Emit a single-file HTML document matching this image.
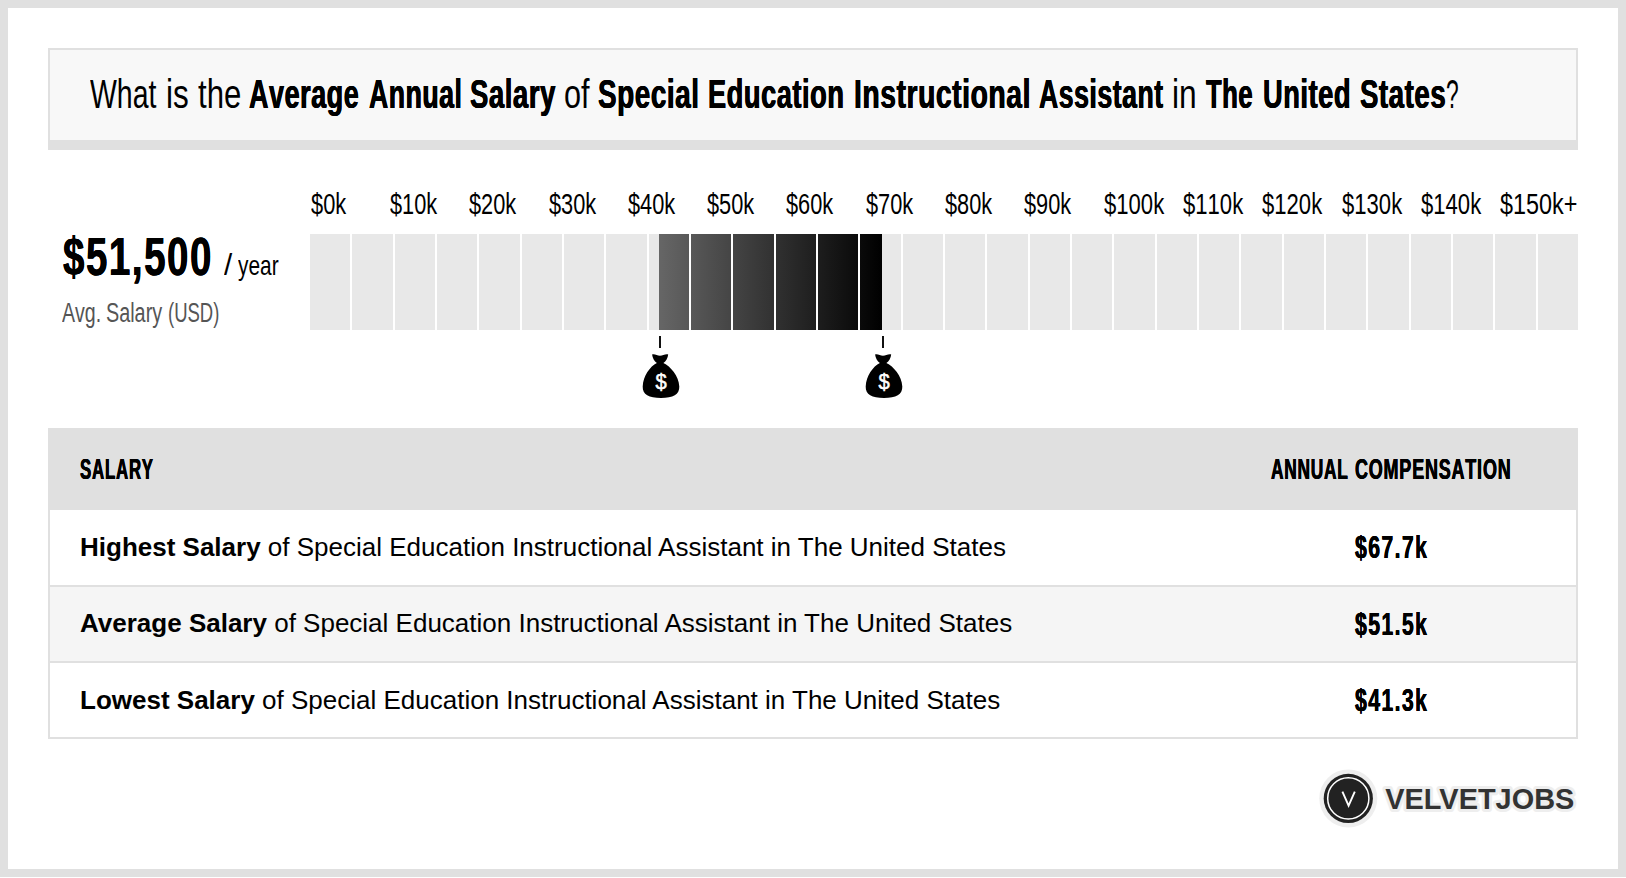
<!DOCTYPE html>
<html lang="en"><head><meta charset="utf-8">
<title>Average Annual Salary of Special Education Instructional Assistant in The United States</title>
<style>
html,body{margin:0;padding:0;background:#fff;}
body{width:1626px;height:878px;position:relative;overflow:hidden;font-family:"Liberation Sans",Arial,Helvetica,sans-serif;color:#000;}
#frame{position:absolute;left:0;top:0;width:1610px;height:861px;border:8px solid #e0e0e0;background:#fff;}
.t{position:absolute;white-space:nowrap;line-height:1;transform-origin:0 0;font-kerning:none;font-weight:400;color:#000;}
.b{font-weight:700;text-shadow:0.65px 0 0 currentColor,-0.65px 0 0 currentColor;}
#title{position:absolute;left:48px;top:48px;width:1526px;height:90px;margin:0;border:2px solid #e0e0e0;border-bottom-width:10px;background:#f8f8f8;font-weight:400;}
#bar{position:absolute;left:310px;top:234px;width:1268px;height:96px;overflow:hidden;}
#bar i{position:absolute;top:0;height:96px;background:#e8e8e8;}
#bar s{position:absolute;top:0;width:2px;height:96px;background:#fff;}
#range{position:absolute;left:349.1px;top:0;width:223.2px;height:96px;background:linear-gradient(90deg,#666 0%,#000 100%);}
.tick{position:absolute;top:336px;width:2px;height:12px;background:#111;}
.bag{position:absolute;top:353px;width:38px;height:46px;}
table{position:absolute;left:48px;top:428px;width:1530px;border-collapse:separate;border-spacing:0;}
th{height:82px;background:#e0e0e0;padding:0;position:relative;}
td{height:75px;padding:0;border-bottom:2px solid #e0e0e0;font-size:26px;}
td:first-child{border-left:2px solid #e0e0e0;padding-left:30px;text-align:left;}
td:last-child{border-right:2px solid #e0e0e0;width:373px;position:relative;}
tr.alt td{background:#f5f5f5;}
tr.r2 td,tr.r3 td{height:74px;}
tr.r2 td:first-child span{position:relative;top:-1px;}
td b{font-weight:700;}
#logo{position:absolute;left:1310px;top:760px;width:280px;height:80px;}
</style></head>
<body>
<div id="frame"></div>
<h1 id="title"><span class="t" style="left:40.18px;top:24.03px;font-size:40.00px;transform:scaleX(0.7105);">What</span> <span class="t" style="left:115.89px;top:24.03px;font-size:40.00px;transform:scaleX(0.7874);">is</span> <span class="t" style="left:147.53px;top:24.03px;font-size:40.00px;transform:scaleX(0.7779);">the</span> <span class="t b" style="left:198.87px;top:24.03px;font-size:40.00px;transform:scaleX(0.6745);letter-spacing:0.80px;text-shadow:0.50px 0 0 currentColor,-0.50px 0 0 currentColor;">Average</span> <span class="t b" style="left:318.67px;top:24.03px;font-size:40.00px;transform:scaleX(0.6656);letter-spacing:0.80px;text-shadow:0.50px 0 0 currentColor,-0.50px 0 0 currentColor;">Annual</span> <span class="t b" style="left:419.55px;top:24.03px;font-size:40.00px;transform:scaleX(0.6877);letter-spacing:0.80px;text-shadow:0.50px 0 0 currentColor,-0.50px 0 0 currentColor;">Salary</span> <span class="t" style="left:513.71px;top:24.03px;font-size:40.00px;transform:scaleX(0.7656);">of</span> <span class="t b" style="left:548.25px;top:24.03px;font-size:40.00px;transform:scaleX(0.6970);letter-spacing:0.80px;text-shadow:0.50px 0 0 currentColor,-0.50px 0 0 currentColor;">Special</span> <span class="t b" style="left:658.42px;top:24.03px;font-size:40.00px;transform:scaleX(0.6805);letter-spacing:0.80px;text-shadow:0.50px 0 0 currentColor,-0.50px 0 0 currentColor;">Education</span> <span class="t b" style="left:804.06px;top:24.03px;font-size:40.00px;transform:scaleX(0.7066);letter-spacing:0.80px;text-shadow:0.50px 0 0 currentColor,-0.50px 0 0 currentColor;">Instructional</span> <span class="t b" style="left:988.77px;top:24.03px;font-size:40.00px;transform:scaleX(0.6657);letter-spacing:0.80px;text-shadow:0.50px 0 0 currentColor,-0.50px 0 0 currentColor;">Assistant</span> <span class="t" style="left:1121.58px;top:24.03px;font-size:40.00px;transform:scaleX(0.7927);">in</span> <span class="t b" style="left:1156.24px;top:24.03px;font-size:40.00px;transform:scaleX(0.6411);letter-spacing:0.80px;text-shadow:0.50px 0 0 currentColor,-0.50px 0 0 currentColor;">The</span> <span class="t b" style="left:1213.31px;top:24.03px;font-size:40.00px;transform:scaleX(0.6817);letter-spacing:0.80px;text-shadow:0.50px 0 0 currentColor,-0.50px 0 0 currentColor;">United</span> <span class="t b" style="left:1310.05px;top:24.03px;font-size:40.00px;transform:scaleX(0.6903);letter-spacing:0.80px;text-shadow:0.50px 0 0 currentColor,-0.50px 0 0 currentColor;">States</span> <span class="t" style="left:1396.36px;top:24.03px;font-size:40.00px;transform:scaleX(0.5701);">?</span></h1>
<div id="scale">
<span class="t" style="left:310.77px;top:188.06px;font-size:30.40px;transform:scaleX(0.7182);">$0k</span>
<span class="t" style="left:390.02px;top:188.06px;font-size:30.40px;transform:scaleX(0.7160);">$10k</span>
<span class="t" style="left:469.27px;top:188.06px;font-size:30.40px;transform:scaleX(0.7160);">$20k</span>
<span class="t" style="left:548.52px;top:188.06px;font-size:30.40px;transform:scaleX(0.7160);">$30k</span>
<span class="t" style="left:627.77px;top:188.06px;font-size:30.40px;transform:scaleX(0.7160);">$40k</span>
<span class="t" style="left:707.02px;top:188.06px;font-size:30.40px;transform:scaleX(0.7160);">$50k</span>
<span class="t" style="left:786.27px;top:188.06px;font-size:30.40px;transform:scaleX(0.7160);">$60k</span>
<span class="t" style="left:865.52px;top:188.06px;font-size:30.40px;transform:scaleX(0.7160);">$70k</span>
<span class="t" style="left:944.77px;top:188.06px;font-size:30.40px;transform:scaleX(0.7160);">$80k</span>
<span class="t" style="left:1024.02px;top:188.06px;font-size:30.40px;transform:scaleX(0.7160);">$90k</span>
<span class="t" style="left:1103.96px;top:188.06px;font-size:30.40px;transform:scaleX(0.7269);">$100k</span>
<span class="t" style="left:1183.21px;top:188.06px;font-size:30.40px;transform:scaleX(0.7269);">$110k</span>
<span class="t" style="left:1262.46px;top:188.06px;font-size:30.40px;transform:scaleX(0.7269);">$120k</span>
<span class="t" style="left:1341.71px;top:188.06px;font-size:30.40px;transform:scaleX(0.7269);">$130k</span>
<span class="t" style="left:1420.96px;top:188.06px;font-size:30.40px;transform:scaleX(0.7269);">$140k</span>
<span class="t" style="left:1500.20px;top:188.06px;font-size:30.40px;transform:scaleX(0.7696);">$150k+</span>
</div>
<div id="salary"><span class="t b" style="left:63.28px;top:229.94px;font-size:53.25px;transform:scaleX(0.7215);letter-spacing:2.20px;text-shadow:0.40px 0 0 currentColor,-0.40px 0 0 currentColor;">$51,500</span> <span class="t" style="left:223.60px;top:250.55px;font-size:29.00px;transform:scaleX(1.0177);">/</span> <span class="t" style="left:237.75px;top:251.53px;font-size:27.60px;transform:scaleX(0.7561);">year</span> <span class="t" style="left:62.06px;top:300.01px;font-size:26.80px;transform:scaleX(0.7296);color:#555;">Avg.</span> <span class="t" style="left:106.10px;top:300.01px;font-size:26.80px;transform:scaleX(0.7390);color:#555;">Salary</span> <span class="t" style="left:168.35px;top:300.01px;font-size:26.80px;transform:scaleX(0.6905);color:#555;">(USD)</span></div>
<div id="bar"><i style="left:0.00px;width:40.33px"></i><i style="left:42.33px;width:40.33px"></i><i style="left:84.67px;width:40.33px"></i><i style="left:127.00px;width:40.33px"></i><i style="left:169.33px;width:40.33px"></i><i style="left:211.67px;width:40.33px"></i><i style="left:254.00px;width:40.33px"></i><i style="left:296.33px;width:40.33px"></i><i style="left:338.67px;width:40.33px"></i><i style="left:381.00px;width:40.33px"></i><i style="left:423.33px;width:40.33px"></i><i style="left:465.67px;width:40.33px"></i><i style="left:508.00px;width:40.33px"></i><i style="left:550.33px;width:40.33px"></i><i style="left:592.67px;width:40.33px"></i><i style="left:635.00px;width:40.33px"></i><i style="left:677.33px;width:40.33px"></i><i style="left:719.67px;width:40.33px"></i><i style="left:762.00px;width:40.33px"></i><i style="left:804.33px;width:40.33px"></i><i style="left:846.67px;width:40.33px"></i><i style="left:889.00px;width:40.33px"></i><i style="left:931.33px;width:40.33px"></i><i style="left:973.67px;width:40.33px"></i><i style="left:1016.00px;width:40.33px"></i><i style="left:1058.33px;width:40.33px"></i><i style="left:1100.67px;width:40.33px"></i><i style="left:1143.00px;width:40.33px"></i><i style="left:1185.33px;width:40.33px"></i><i style="left:1227.67px;width:40.33px"></i><div id="range"></div><s style="left:40.33px"></s><s style="left:82.67px"></s><s style="left:125.00px"></s><s style="left:167.33px"></s><s style="left:209.67px"></s><s style="left:252.00px"></s><s style="left:294.33px"></s><s style="left:336.67px"></s><s style="left:379.00px"></s><s style="left:421.33px"></s><s style="left:463.67px"></s><s style="left:506.00px"></s><s style="left:548.33px"></s><s style="left:590.67px"></s><s style="left:633.00px"></s><s style="left:675.33px"></s><s style="left:717.67px"></s><s style="left:760.00px"></s><s style="left:802.33px"></s><s style="left:844.67px"></s><s style="left:887.00px"></s><s style="left:929.33px"></s><s style="left:971.67px"></s><s style="left:1014.00px"></s><s style="left:1056.33px"></s><s style="left:1098.67px"></s><s style="left:1141.00px"></s><s style="left:1183.33px"></s><s style="left:1225.67px"></s></div>
<div class="tick" style="left:659px"></div>
<div class="tick" style="left:882px"></div>
<svg class="bag" style="left:642.3px" viewBox="0 0 38 46">
<path d="M10.1 1.4 C12.9 0.6 15.2 2.8 18 2.8 C20.8 2.8 23.2 0.6 26.2 1.4 C25.8 5 24 8.2 21.4 10.1 C28.5 13.5 36.8 23 37.3 33.4 C37.6 41.5 31 44.9 19 44.9 C7 44.9 0.4 41.5 0.7 33.4 C1.2 23 8 13.5 14.9 10.1 C12.3 8.2 10.5 5 10.1 1.4 Z" fill="#000"/>
<text transform="translate(19 35.9) scale(0.9 1)" text-anchor="middle" font-family="Liberation Sans, Arial, sans-serif" font-size="22.4" fill="#fff" stroke="#fff" stroke-width="0.55">$</text>
</svg>
<svg class="bag" style="left:865.3px" viewBox="0 0 38 46">
<path d="M10.1 1.4 C12.9 0.6 15.2 2.8 18 2.8 C20.8 2.8 23.2 0.6 26.2 1.4 C25.8 5 24 8.2 21.4 10.1 C28.5 13.5 36.8 23 37.3 33.4 C37.6 41.5 31 44.9 19 44.9 C7 44.9 0.4 41.5 0.7 33.4 C1.2 23 8 13.5 14.9 10.1 C12.3 8.2 10.5 5 10.1 1.4 Z" fill="#000"/>
<text transform="translate(19 35.9) scale(0.9 1)" text-anchor="middle" font-family="Liberation Sans, Arial, sans-serif" font-size="22.4" fill="#fff" stroke="#fff" stroke-width="0.55">$</text>
</svg>
<table>
<tr><th><span class="t b" style="left:32.36px;top:26.76px;font-size:28.63px;transform:scaleX(0.5881);letter-spacing:1.30px;text-shadow:0.42px 0 0 currentColor,-0.42px 0 0 currentColor;">SALARY</span></th><th><span class="t b" style="left:68.12px;top:26.76px;font-size:28.63px;transform:scaleX(0.6041);letter-spacing:1.30px;text-shadow:0.42px 0 0 currentColor,-0.42px 0 0 currentColor;">ANNUAL</span> <span class="t b" style="left:152.43px;top:26.76px;font-size:28.63px;transform:scaleX(0.6275);letter-spacing:1.30px;text-shadow:0.42px 0 0 currentColor,-0.42px 0 0 currentColor;">COMPENSATION</span></th></tr>
<tr><td><b>Highest Salary</b> of Special Education Instructional Assistant in The United States</td><td><span class="t b" style="left:151.73px;top:22.53px;font-size:30.79px;transform:scaleX(0.6906);letter-spacing:2.00px;text-shadow:0.30px 0 0 currentColor,-0.30px 0 0 currentColor;">$67.7k</span></td></tr>
<tr class="alt r2"><td><span><b>Average Salary</b> of Special Education Instructional Assistant in The United States</span></td><td><span class="t b" style="left:151.73px;top:22.73px;font-size:30.79px;transform:scaleX(0.6906);letter-spacing:2.00px;text-shadow:0.30px 0 0 currentColor,-0.30px 0 0 currentColor;">$51.5k</span></td></tr>
<tr class="r3"><td><b>Lowest Salary</b> of Special Education Instructional Assistant in The United States</td><td><span class="t b" style="left:151.73px;top:22.83px;font-size:30.79px;transform:scaleX(0.6906);letter-spacing:2.00px;text-shadow:0.30px 0 0 currentColor,-0.30px 0 0 currentColor;">$41.3k</span></td></tr>
</table>
<svg id="logo" viewBox="0 0 280 80">
<circle cx="38.3" cy="38.4" r="29" fill="#eee"/>
<circle cx="38.3" cy="38.4" r="24.6" fill="#222"/>
<circle cx="38.3" cy="38.4" r="20.6" fill="none" stroke="#fff" stroke-width="1.5"/>
<path d="M32.4 31.6 L38.6 45.6 L44.8 31.6" fill="none" stroke="#fff" stroke-width="1.9"/>
<text x="75.3" y="48.6" font-family="Liberation Sans, Arial, sans-serif" font-weight="700" font-size="28.8" fill="#333" stroke="#eee" stroke-width="6" stroke-linejoin="round" paint-order="stroke" textLength="189" lengthAdjust="spacingAndGlyphs">VELVETJOBS</text>
</svg>
</body></html>
